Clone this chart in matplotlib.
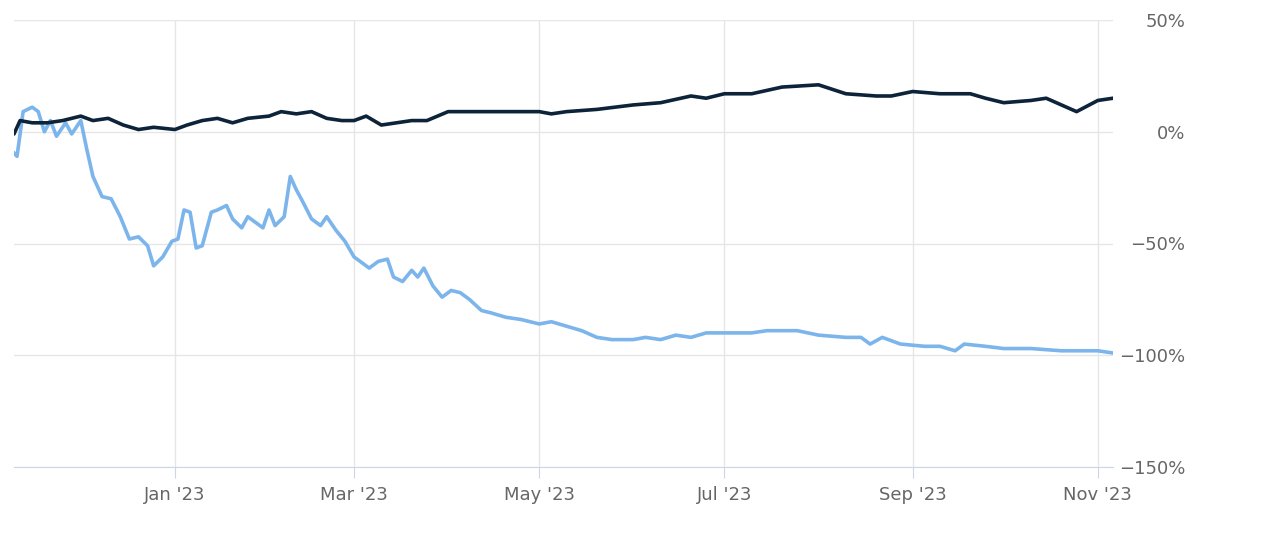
import matplotlib

matplotlib.use("Agg")
import matplotlib.pyplot as plt
import numpy as np

# light blue series (date, % change)
blue_dates = [
    "2022-11-08", "2022-11-10", "2022-11-12", "2022-11-15", "2022-11-17", "2022-11-19", "2022-11-21",
    "2022-11-23", "2022-11-26", "2022-11-28", "2022-12-01", "2022-12-03", "2022-12-05", "2022-12-08",
    "2022-12-11", "2022-12-14", "2022-12-17", "2022-12-20", "2022-12-23", "2022-12-25", "2022-12-28",
    "2022-12-31", "2023-01-02", "2023-01-04", "2023-01-06", "2023-01-08", "2023-01-10", "2023-01-13",
    "2023-01-15", "2023-01-18", "2023-01-20", "2023-01-23", "2023-01-25", "2023-01-28", "2023-01-30",
    "2023-02-01", "2023-02-03", "2023-02-06", "2023-02-08", "2023-02-10", "2023-02-12", "2023-02-15",
    "2023-02-18", "2023-02-20", "2023-02-23", "2023-02-26", "2023-03-01", "2023-03-04", "2023-03-06",
    "2023-03-09", "2023-03-12", "2023-03-14", "2023-03-17", "2023-03-20", "2023-03-22", "2023-03-24",
    "2023-03-27", "2023-03-30", "2023-04-02", "2023-04-05", "2023-04-08", "2023-04-12", "2023-04-15",
    "2023-04-20", "2023-04-25", "2023-05-01", "2023-05-05", "2023-05-10", "2023-05-15", "2023-05-20",
    "2023-05-25", "2023-06-01", "2023-06-05", "2023-06-10", "2023-06-15", "2023-06-20", "2023-06-25",
    "2023-07-01", "2023-07-10", "2023-07-15", "2023-07-25", "2023-08-01", "2023-08-10", "2023-08-15",
    "2023-08-18", "2023-08-22", "2023-08-28", "2023-09-05", "2023-09-10", "2023-09-15", "2023-09-18",
    "2023-09-25", "2023-10-01", "2023-10-10", "2023-10-20", "2023-11-01", "2023-11-06",
]
blue_values = [
    -8, -11, 9, 11, 9, 0, 5, -2, 4, -1, 5, -8, -20, -29, -30, -38, -48, -47, -51, -60, -56,
    -49, -48, -35, -36, -52, -51, -36, -35, -33, -39, -43, -38, -41, -43, -35, -42, -38, -20,
    -26, -31, -39, -42, -38, -44, -49, -56, -59, -61, -58, -57, -65, -67, -62, -65, -61, -69,
    -74, -71, -72, -75, -80, -81, -83, -84, -86, -85, -87, -89, -92, -93, -93, -92, -93, -91,
    -92, -90, -90, -90, -89, -89, -91, -92, -92, -95, -92, -95, -96, -96, -98, -95, -96, -97,
    -97, -98, -98, -99,
]

# dark navy series
navy_dates = [
    "2022-11-08", "2022-11-09", "2022-11-11", "2022-11-15", "2022-11-20", "2022-11-25", "2022-12-01",
    "2022-12-05", "2022-12-10", "2022-12-15", "2022-12-20", "2022-12-25", "2023-01-01", "2023-01-05",
    "2023-01-10", "2023-01-15", "2023-01-20", "2023-01-25", "2023-02-01", "2023-02-05", "2023-02-10",
    "2023-02-15", "2023-02-20", "2023-02-25", "2023-03-01", "2023-03-05", "2023-03-10", "2023-03-15",
    "2023-03-20", "2023-03-25", "2023-04-01", "2023-04-10", "2023-04-15", "2023-04-25", "2023-05-01",
    "2023-05-05", "2023-05-10", "2023-05-20", "2023-06-01", "2023-06-10", "2023-06-20", "2023-06-25",
    "2023-07-01", "2023-07-10", "2023-07-20", "2023-08-01", "2023-08-10", "2023-08-20", "2023-08-25",
    "2023-09-01", "2023-09-10", "2023-09-20", "2023-09-25", "2023-10-01", "2023-10-10", "2023-10-15",
    "2023-10-20", "2023-10-25", "2023-11-01", "2023-11-06",
]
navy_values = [
    0, -1, 5, 4, 4, 5, 7, 5, 6, 3, 1, 2, 1, 3, 5, 6, 4, 6, 7, 9, 8, 9, 6, 5, 5, 7, 3, 4, 5, 5,
    9, 9, 9, 9, 9, 8, 9, 10, 12, 13, 16, 15, 17, 17, 20, 21, 17, 16, 16, 18, 17, 17, 15, 13, 14,
    15, 12, 9, 14, 15,
]

y_ticks = [50, 0, -50, -100, -150]
y_labels = ["50%", "0%", "\u221250%", "\u2212100%", "\u2212150%"]
x_ticks = ["2023-01-01", "2023-03-01", "2023-05-01", "2023-07-01", "2023-09-01", "2023-11-01"]
x_labels = ["Jan '23", "Mar '23", "May '23", "Jul '23", "Sep '23", "Nov '23"]

fig = plt.figure(figsize=(12.72, 5.44), dpi=100)
ax = fig.add_axes([14 / 1272, 1 - 467 / 544, (1113 - 14) / 1272, (467 - 20) / 544])

ax.plot(np.array(blue_dates, dtype="datetime64[D]"), blue_values, color="#7cb5ec", lw=2.6)
ax.plot(np.array(navy_dates, dtype="datetime64[D]"), navy_values, color="#0d233a", lw=2.6)

ax.set_xlim(np.datetime64("2022-11-09"), np.datetime64("2023-11-06"))
ax.set_ylim(-150, 50)
ax.set_yticks(y_ticks)
ax.set_yticklabels(y_labels, ha="right")
ax.yaxis.tick_right()
ax.set_xticks(np.array(x_ticks, dtype="datetime64[D]"))
ax.set_xticklabels(x_labels)
ax.grid(True, color="#e6e6e6", lw=1)
ax.set_axisbelow(True)
for s in ["top", "right", "left"]:
    ax.spines[s].set_visible(False)
ax.spines["bottom"].set_color("#ccd6eb")
ax.tick_params(axis="y", length=0, pad=52, labelsize=13, labelcolor="#666666")
ax.tick_params(axis="x", length=8, color="#ccd6eb", pad=6, labelsize=13, labelcolor="#666666")

fig.savefig("out.png", dpi=100)
